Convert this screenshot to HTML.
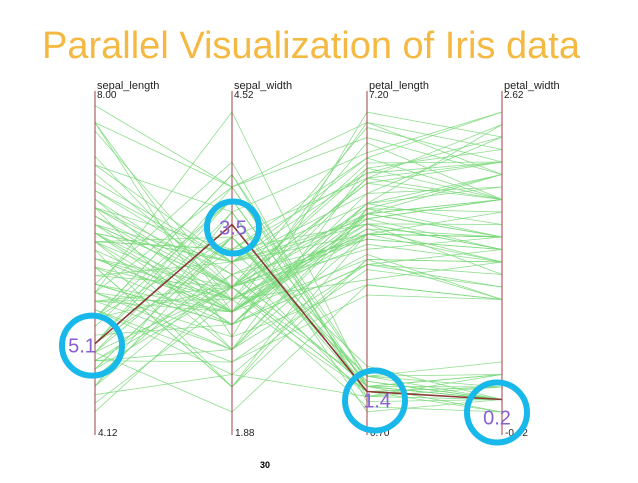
<!DOCTYPE html>
<html><head><meta charset="utf-8"><style>
body{margin:0;background:#fff;width:638px;height:478px;overflow:hidden;font-family:"Liberation Sans",sans-serif}
</style></head><body>
<svg width="638" height="478" xmlns="http://www.w3.org/2000/svg">
<text x="311" y="58" text-anchor="middle" font-size="38" fill="#f4b942" font-family="Liberation Sans,sans-serif">Parallel Visualization of Iris data</text>
<g id="lines"></g>
<g id="axes"></g>
<g id="hl"></g>
<text x="265" y="468" text-anchor="middle" font-size="9" font-weight="bold">30</text>
</svg>
<script>
const dims=["sepal_length","sepal_width","petal_length","petal_width"];
const maxLabels=["8.00","4.52","7.20","2.62"];
const minLabels=["4.12","1.88","0.70","-0.02"];
const mins=[4.12,1.88,0.70,-0.02];
const maxs=[8.00,4.52,7.20,2.62];
const sepalLength=[5.1,4.9,4.7,4.6,5.0,5.4,4.6,5.0,4.4,4.9,5.4,4.8,4.8,4.3,5.8,5.7,5.4,5.1,5.7,5.1,5.4,5.1,4.6,5.1,4.8,5.0,4.5,5.3,7.0,6.4,6.9,5.5,6.5,5.7,6.3,4.9,6.6,5.2,5.0,5.9,6.0,6.1,5.6,6.7,5.6,5.8,6.2,5.6,5.9,6.1,6.3,6.1,6.4,6.6,6.8,6.7,6.0,5.7,5.5,5.8,6.0,5.4,6.3,5.8,7.1,6.3,6.5,7.6,4.9,7.3,6.7,7.2,6.5,6.4,6.8,5.7,5.8,6.4,6.5,7.7,7.7,6.0,6.9,5.6,7.7,6.3,6.7,7.2,6.2,6.1,6.4,7.9,6.3];
const sepalWidth=[3.5,3.0,3.2,3.1,3.6,3.9,3.4,3.4,2.9,3.1,3.7,3.4,3.0,3.0,4.0,4.4,3.9,3.5,3.8,3.8,3.4,3.7,3.6,3.3,3.4,3.0,2.3,3.7,3.2,3.2,3.1,2.3,2.8,2.8,3.3,2.4,2.9,2.7,2.0,3.0,2.2,2.9,2.9,3.1,3.0,2.7,2.2,2.5,3.2,2.8,2.5,2.8,2.9,3.0,2.8,3.0,2.9,2.6,2.4,2.7,2.7,3.0,3.3,2.7,3.0,2.9,3.0,3.0,2.5,2.9,2.5,3.6,3.2,2.7,3.0,2.5,2.8,3.2,3.0,3.8,2.6,2.2,3.2,2.8,2.8,2.7,3.3,3.2,2.8,3.0,2.8,3.8,3.4];
const petalLength=[1.4,1.4,1.3,1.5,1.4,1.7,1.4,1.5,1.4,1.5,1.5,1.6,1.4,1.1,1.2,1.5,1.3,1.4,1.7,1.5,1.7,1.5,1.0,1.7,1.9,1.6,1.3,1.5,4.7,4.5,4.9,4.0,4.6,4.5,4.7,3.3,4.6,3.9,3.5,4.2,4.0,4.7,3.6,4.4,4.5,4.1,4.5,3.9,4.8,4.0,4.9,4.7,4.3,4.4,4.8,5.0,4.5,3.5,3.8,3.9,5.1,4.5,6.0,5.1,5.9,5.6,5.8,6.6,4.5,6.3,5.8,6.1,5.1,5.3,5.5,5.0,5.1,5.3,5.5,6.7,6.9,5.0,5.7,4.9,6.7,4.9,5.7,6.0,4.8,4.9,5.6,6.4,5.6];
const petalWidth=[0.2,0.2,0.2,0.2,0.2,0.4,0.3,0.2,0.2,0.1,0.2,0.2,0.1,0.1,0.2,0.4,0.4,0.3,0.3,0.3,0.2,0.4,0.2,0.5,0.2,0.2,0.3,0.2,1.4,1.5,1.5,1.3,1.5,1.3,1.6,1.0,1.3,1.4,1.0,1.5,1.0,1.4,1.3,1.4,1.5,1.0,1.5,1.1,1.8,1.3,1.5,1.2,1.3,1.4,1.4,1.7,1.5,1.0,1.1,1.2,1.6,1.5,2.5,1.9,2.1,1.8,2.2,2.1,1.7,1.8,1.8,2.5,2.0,1.9,2.1,2.0,2.4,2.3,1.8,2.2,2.3,1.5,2.3,2.0,2.0,1.8,2.1,1.8,1.8,1.8,2.1,2.0,2.4];
const highlightRow=0;
const series=[sepalLength,sepalWidth,petalLength,petalWidth];
const NS="http://www.w3.org/2000/svg";
const axX=[95,232,367,502], yTop=97, yBot=427;
const yScale=(d,v)=>yBot-(v-mins[d])/(maxs[d]-mins[d])*(yBot-yTop);
function mk(tag,at,parent){const e=document.createElementNS(NS,tag);for(const k in at)e.setAttribute(k,at[k]);parent.appendChild(e);return e;}
const L=document.getElementById('lines'),A=document.getElementById('axes'),H=document.getElementById('hl');
const n=Math.min(sepalLength.length,sepalWidth.length,petalLength.length,petalWidth.length);
for(let i=0;i<n;i++){
  if(i===highlightRow)continue;
  const pts=series.map((s,d)=>axX[d]+','+yScale(d,s[i]).toFixed(1)).join(' ');
  const p=mk('polyline',{points:pts,fill:'none',stroke:'#7ad87a','stroke-width':0.8,opacity:0.85},L);
  
  
}
dims.forEach((nm,d)=>{
  const l=mk('line',{x1:axX[d],x2:axX[d],y1:yTop-6,y2:yBot+8,stroke:'#a04040','stroke-width':1},A);
  
  
  const t=mk('text',{x:axX[d]+2,y:89,'font-size':11,fill:'#222'},A);t.textContent=nm;
  
  
  const t2=mk('text',{x:axX[d]+2,y:98,'font-size':10,fill:'#222'},A);t2.textContent=maxLabels[d];
  
  
  const t3=mk('text',{x:axX[d]+3,y:436,'font-size':10,fill:'#222'},A);t3.textContent=minLabels[d];
  
  
});
const hp=series.map((s,d)=>axX[d]+','+yScale(d,s[highlightRow]).toFixed(1)).join(' ');
const hl=mk('polyline',{points:hp,fill:'none',stroke:'#8b3a3a','stroke-width':1.6},H);


const circ=[[92,2,30,-10],[233,3,26,0],[375,9,30,2],[497,13,30,0]];
series.forEach((s,d)=>{
  const v=s[highlightRow], cy=yScale(d,v)+circ[d][1], cx=circ[d][0];
  const c=mk('circle',{cx:cx,cy:cy,r:circ[d][2],fill:'none',stroke:'#18b9ea','stroke-width':6},H);
  
  
  const t=mk('text',{x:cx+circ[d][3],y:cy+7+(d===3?5:0),'font-size':20,fill:'#8a5fd6','text-anchor':'middle'},H);
  t.textContent=v.toFixed(1);
  
  
});
</script>
</body></html>
